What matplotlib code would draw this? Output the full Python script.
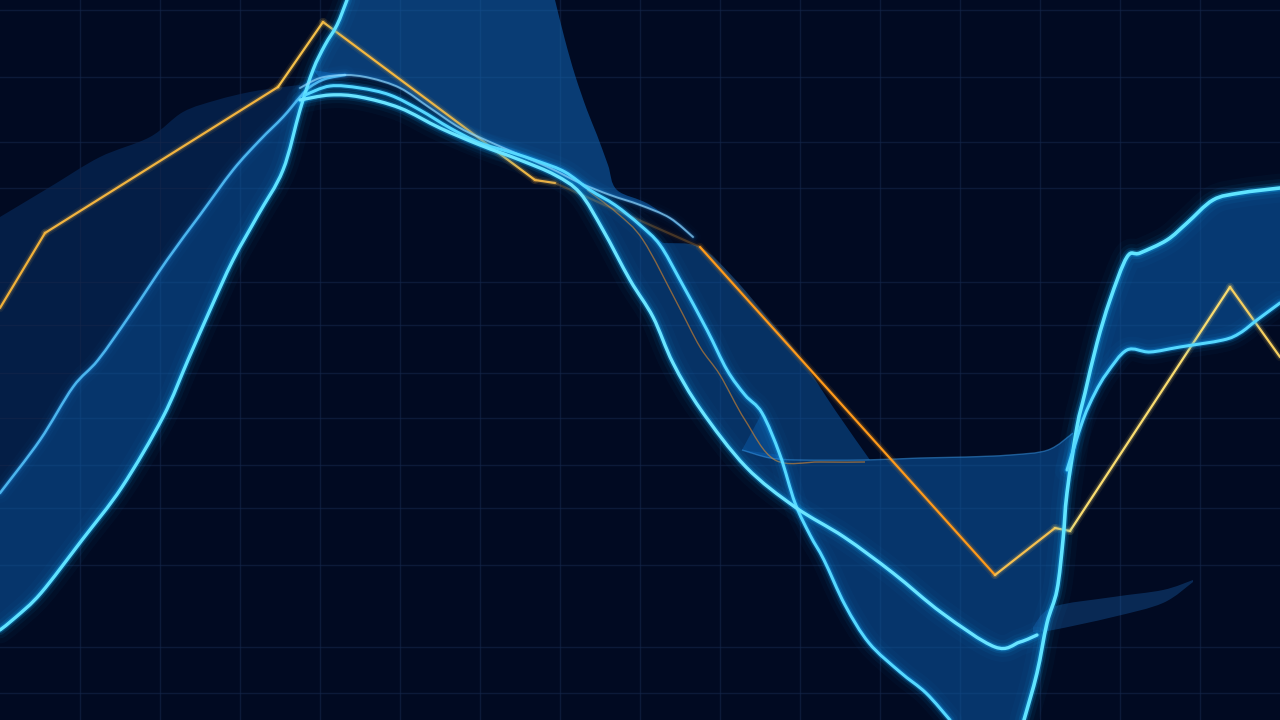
import numpy as np
import matplotlib
matplotlib.use("Agg")
import matplotlib.pyplot as plt
from matplotlib.collections import LineCollection
from matplotlib.path import Path
from matplotlib.patches import PathPatch

# 그리드 위치 (픽셀 좌표)
grid_x = [80, 160, 240, 320, 400, 480, 560, 640, 720, 800, 880, 960, 1040, 1120, 1200]
grid_y = [10, 77, 142, 188, 282, 325, 373, 418, 465, 508, 565, 647, 693]

# 왼쪽 리본 위/아래 선
l1_x = [0, 40, 73, 98, 130, 167, 200, 233, 260, 283, 300, 310, 325, 345]
l1_y = [493, 440, 387, 360, 315, 260, 215, 170, 140, 117, 97, 87, 79, 75]
l2_x = [0, 16, 41, 82, 122, 163, 188, 210, 233, 258, 283, 300, 313, 325, 337, 347]
l2_y = [630, 617, 593, 540, 487, 417, 360, 310, 260, 215, 170, 110, 70, 45, 25, 0]

# 왼쪽 위 희미한 영역의 윗선
f0_x = [0, 50, 100, 150, 183, 217, 250, 283, 300]
f0_y = [217, 187, 157, 137, 112, 100, 92, 87, 85]

# 봉우리 뒤 세 줄 다발
t1_x = [300, 320, 345, 370, 400, 430, 460, 490, 520, 550, 580, 610, 640, 670, 693]
t1_y = [88, 78, 75, 78, 88, 108, 128, 142, 155, 168, 183, 195, 205, 218, 237]
t2_x = [305, 330, 360, 390, 420, 450, 480, 510, 540, 565, 590, 615, 640, 660, 680,
        707, 727, 745, 762, 780, 795, 810, 824, 845, 869, 900, 926, 950]
t2_y = [95, 86, 88, 95, 110, 128, 143, 152, 162, 172, 190, 205, 225, 245, 280,
        330, 370, 395, 413, 455, 503, 535, 560, 605, 643, 672, 693, 720]
t3_x = [300, 330, 360, 400, 440, 480, 520, 555, 580, 603, 630, 653, 673, 701, 746,
        795, 844, 893, 942, 995, 1020, 1037]
t3_y = [100, 95, 97, 108, 128, 145, 160, 175, 193, 230, 280, 317, 363, 410, 467,
        507, 537, 573, 613, 647, 642, 635]

# 위쪽 큰 영역의 오른쪽 경계
top_rx = [555, 565, 575, 587, 597, 608, 617, 650, 693]
top_ry = [0, 40, 75, 110, 135, 165, 190, 205, 237]

# 오른쪽 리본
u_x = [1024, 1037, 1047, 1057, 1063, 1067, 1077, 1085, 1097, 1110, 1127, 1140,
       1167, 1187, 1213, 1240, 1280]
u_y = [720, 673, 623, 590, 540, 493, 427, 393, 343, 300, 257, 253,
       240, 223, 200, 193, 188]
lr_x = [1067, 1083, 1095, 1107, 1127, 1150, 1180, 1223, 1240, 1257, 1280]
lr_y = [470, 420, 393, 373, 350, 352, 347, 340, 333, 320, 303]

# V자 영역 윗선
band_x = [742, 770, 800, 864, 920, 966, 1010, 1048, 1073]
band_y = [450, 458, 460, 460, 458, 457, 455, 450, 433]

# 오른쪽 아래 희미한 띠
fb_x = [1033, 1053, 1113, 1163, 1193]
fb_top = [627, 607, 597, 590, 580]
fb_bot = [632, 630, 617, 603, 582]

# 주황 선
or_x = [0, 45, 278, 323, 535, 555, 700, 995, 1055, 1070, 1230, 1280]
or_y = [308, 233, 87, 22, 180, 183, 247, 575, 528, 531, 287, 357]
or_in_x = [587, 617, 643, 677, 700, 720, 745, 775, 820, 865]
or_in_y = [190, 213, 240, 303, 347, 375, 420, 460, 462, 462]

# 중간 리본 (주황 바깥선 ~ t2)
mid_x = [663, 700, 733, 767, 800, 835, 870]
mid_y = [243, 247, 277, 317, 357, 410, 460]

bg = "#010a22"
fig = plt.figure(figsize=(12.8, 7.2), dpi=100, facecolor=bg)
ax = fig.add_axes([0, 0, 1, 1])
ax.set_facecolor(bg)
ax.set_xlim(0, 1280)
ax.set_ylim(720, 0)
ax.set_xticks(grid_x)
ax.set_yticks(grid_y)
ax.tick_params(length=0, labelbottom=False, labelleft=False)
ax.grid(True, color="#14264a", lw=1.0, alpha=0.6)
for s in ax.spines.values():
    s.set_visible(False)


def arr(xs, ys):
    return np.array(xs, float), np.array(ys, float)


def pick(xs, ys, lo, hi):
    xs, ys = arr(xs, ys)
    m = (xs >= lo) & (xs <= hi)
    return xs[m], ys[m]


def rev(p):
    return p[0][::-1], p[1][::-1]


def bez(xs, ys, first):
    # 점들을 지나는 부드러운 곡선 (Catmull-Rom -> 3차 베지어)
    P = np.column_stack([xs, ys])
    n = len(P)
    verts = [P[0]]
    codes = [first]
    for i in range(n - 1):
        p0 = P[i - 1] if i > 0 else P[i]
        p1, p2 = P[i], P[i + 1]
        p3 = P[i + 2] if i + 2 < n else P[i + 1]
        verts += [p1 + (p2 - p0) / 6, p2 - (p3 - p1) / 6, p2]
        codes += [Path.CURVE4] * 3
    return verts, codes


def line_path(xs, ys):
    v, c = bez(*arr(xs, ys), Path.MOVETO)
    return Path(v, c)


def poly(parts, color, alpha, z=2):
    verts, codes = [], []
    for k, p in enumerate(parts):
        v, c = bez(p[0], p[1], Path.MOVETO if k == 0 else Path.LINETO)
        verts += v
        codes += c
    verts.append(verts[0])
    codes.append(Path.CLOSEPOLY)
    ax.add_patch(PathPatch(Path(verts, codes), facecolor=color, alpha=alpha,
                           lw=0, zorder=z))


def glow(xs, ys, color, core, lw=2.0, alpha=1.0, z=5):
    path = line_path(xs, ys)
    for w, a in [(16, 0.03), (10, 0.06), (6, 0.12), (3.6, 0.28)]:
        ax.add_patch(PathPatch(path, fill=False, edgecolor=color, lw=w * lw / 2,
                               alpha=a * alpha, capstyle="round",
                               joinstyle="round", zorder=z))
    ax.add_patch(PathPatch(path, fill=False, edgecolor=core, lw=lw, alpha=alpha,
                           capstyle="round", joinstyle="round", zorder=z + 0.1))


# 영역 채우기
poly([arr(f0_x, f0_y), rev(pick(l1_x, l1_y, 0, 300))], "#0a3a78", 0.42, z=1)
poly([arr(l1_x, l1_y), rev(pick(l2_x, l2_y, 0, 313))], "#0b5aa8", 0.55)

# 위쪽 큰 영역
poly([pick(l2_x, l2_y, 313, 347), arr(top_rx, top_ry),
      rev(pick(t1_x, t1_y, 320, 693))], "#1067b8", 0.55)

# 다발 사이 리본
poly([pick(t3_x, t3_y, 555, 795), rev(pick(t2_x, t2_y, 540, 795))], "#0b5aa8", 0.5)

# 중간 리본
poly([arr(mid_x, mid_y), rev(pick(band_x, band_y, 742, 870)),
      rev(pick(t2_x, t2_y, 640, 762))], "#0b58a5", 0.5)

# V 영역
poly([arr(band_x, band_y), rev(pick(u_x, u_y, 1024, 1073)),
      rev(pick(t2_x, t2_y, 780, 950))], "#0b5aa8", 0.55)

# 오른쪽 리본
poly([pick(u_x, u_y, 1067, 1280), rev(arr(lr_x, lr_y))], "#0b5aa8", 0.6)

# 오른쪽 아래 띠
poly([arr(fb_x, fb_top), rev(arr(fb_x, fb_bot))], "#1a6cc0", 0.32)

# 주황 선
or_cols = ["#f0b13a", "#f2b440", "#f5c04a", "#f5b840", "#f0b040", "#f0a030",
           "#ff9a1a", "#f5c050", "#f7d060", "#f9dc70", "#f7d060"]
or_alpha = [1, 1, 1, 1, 1, 0.25, 1, 1, 1, 1, 1]
pts = np.column_stack([or_x, or_y]).astype(float)
segs = [pts[i:i + 2] for i in range(len(pts) - 1)]
rgba = [matplotlib.colors.to_rgba(c, a) for c, a in zip(or_cols, or_alpha)]
for w, a in [(6, 0.08), (3.5, 0.18)]:
    glow_c = [(r, g, b, al * a) for r, g, b, al in rgba]
    ax.add_collection(LineCollection(segs, colors=glow_c, linewidths=w, zorder=4,
                                     capstyle="round", joinstyle="round"))
ax.add_collection(LineCollection(segs, colors=rgba, linewidths=1.6, zorder=4.5,
                                 capstyle="round", joinstyle="round"))
ax.add_patch(PathPatch(line_path(or_in_x, or_in_y), fill=False, edgecolor="#e08a2a",
                       lw=1.0, alpha=0.6, zorder=3.5))

# 청록 선
glow(l1_x, l1_y, "#1e90e8", "#58c8ff", lw=1.8, alpha=0.85)
glow(l2_x, l2_y, "#12b0ff", "#5fe2ff", lw=2.4)
glow(t1_x, t1_y, "#2a90e0", "#8fd8ff", lw=1.4, alpha=0.7)
glow(t2_x, t2_y, "#12a8ff", "#55d8ff", lw=2.2)
glow(t3_x, t3_y, "#12b0ff", "#6ae4ff", lw=2.4)
glow(u_x, u_y, "#12b4ff", "#60e4ff", lw=2.6)
glow(lr_x, lr_y, "#12a8ff", "#55d8ff", lw=2.2)
ax.add_patch(PathPatch(line_path(band_x, band_y), fill=False, edgecolor="#3a9ae8",
                       lw=1.0, alpha=0.5, zorder=3))

fig.savefig("out.png", dpi=100, facecolor=bg)
